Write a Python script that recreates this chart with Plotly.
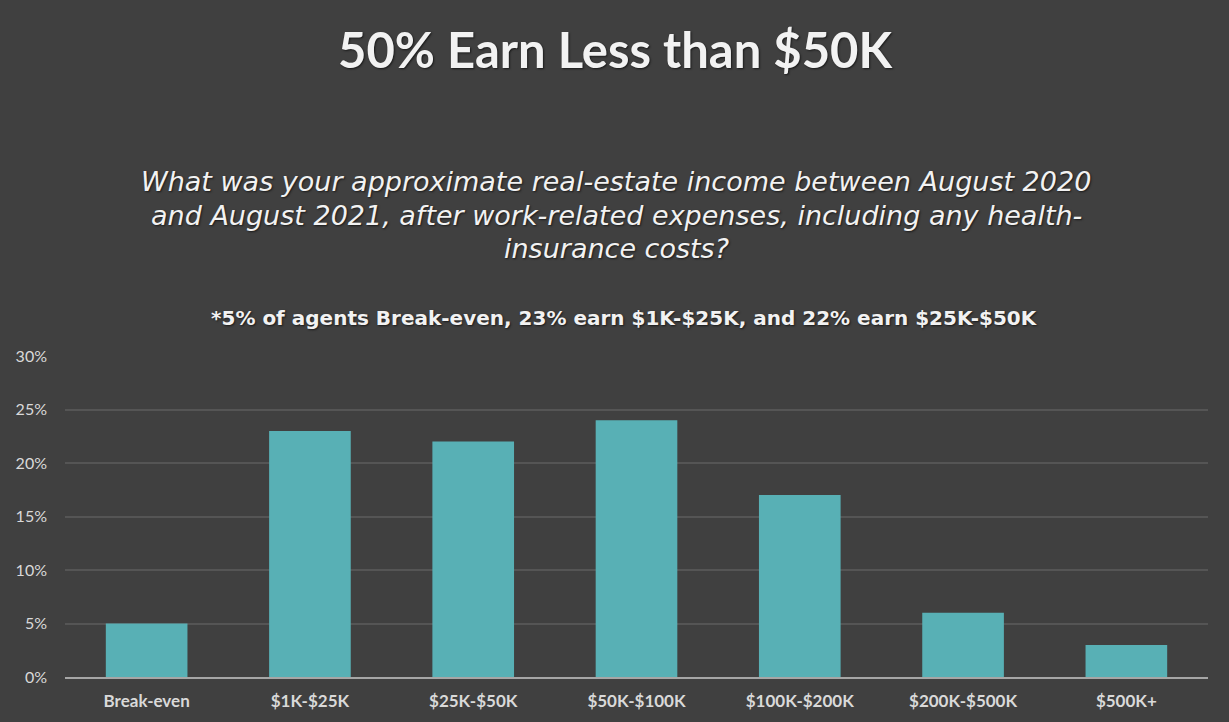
import plotly.graph_objects as go

categories = ["Break-even", "$1K-$25K", "$25K-$50K", "$50K-$100K", "$100K-$200K", "$200K-$500K", "$500K+"]
values = [5, 23, 22, 24, 17, 6, 3]
y_ticks = [0, 5, 10, 15, 20, 25, 30]
y_labels = ["0%", "5%", "10%", "15%", "20%", "25%", "30%"]

title_text = "50% Earn Less than $50K"
subtitle_lines = [
    "What was your approximate real-estate income between August 2020",
    "and August 2021, after work-related expenses, including any health-",
    "insurance costs?",
]
note_text = "*5% of agents Break-even, 23% earn $1K-$25K, and 22% earn $25K-$50K"

BG = "#404040"
SHADOW = "1px 1px 2px #1a1a1a"
W, H = 1229, 722
ML, MR, MT, MB = 65, 21, 356, 45

fig = go.Figure(go.Bar(x=categories, y=values, marker=dict(color="#58b0b5", line=dict(width=0))))

fig.update_layout(
    width=W, height=H,
    paper_bgcolor=BG, plot_bgcolor=BG,
    margin=dict(l=ML, r=MR, t=MT, b=MB),
    bargap=0.5,
    showlegend=False,
    font=dict(family="Lato", color="#d9d9d9"),
)
fig.update_yaxes(range=[0, 30], tickvals=y_ticks, ticktext=y_labels,
                 gridcolor="#555555", gridwidth=1.5, zeroline=False,
                 tickfont=dict(size=16, color="#d9d9d9"), ticks="", ticklabelstandoff=17,
                 showline=False, fixedrange=True)
fig.update_xaxes(showline=True, linecolor="#a6a6a6", linewidth=2,
                 tickfont=dict(size=17, color="#d9d9d9", weight="bold"), ticks="", ticklabelstandoff=8)

PW = W - ML - MR
PH = H - MT - MB


def px_to_paper(x, y):
    return (x - ML) / PW, (H - MB - y) / PH


texts = [(title_text, 615, 49, "title")]
for i, line in enumerate(subtitle_lines):
    texts.append((line, 616, 182 + 33 * i, "sub"))
texts.append((note_text, 624, 318, "note"))

for text, x, y, kind in texts:
    if kind == "title":
        f = dict(size=49, color="#f2f2f2", weight="bold", family="Lato", shadow=SHADOW)
    elif kind == "sub":
        f = dict(size=27, color="#f2f2f2", style="italic", family="DejaVu Sans", shadow=SHADOW)
    else:
        f = dict(size=20, color="#f2f2f2", weight="bold", family="DejaVu Sans", shadow=SHADOW)
    px, py = px_to_paper(x, y)
    fig.add_annotation(text=text, x=px, y=py, xref="paper", yref="paper", showarrow=False,
                       xanchor="center", yanchor="middle", font=f)

fig.write_html("out.html")
